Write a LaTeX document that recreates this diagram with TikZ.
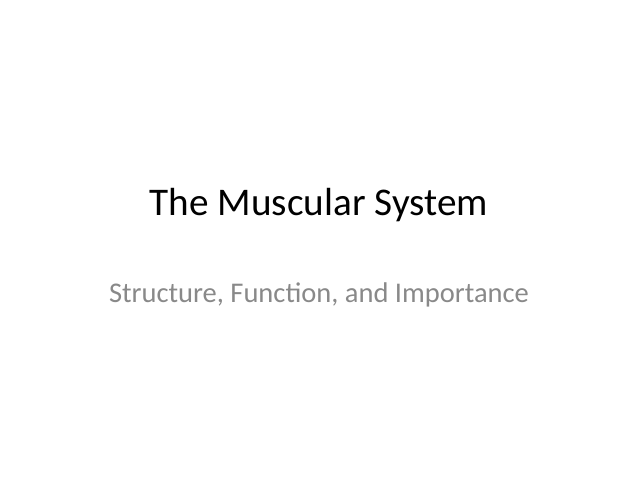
\documentclass[tikz,border=0pt]{standalone}
\usepackage{fontspec}
\setmainfont{Carlito}
\definecolor{subgray}{RGB}{137,137,137}
\begin{document}
\begin{tikzpicture}[x=1pt,y=-1pt]
\useasboundingbox[fill=white] (0,0) rectangle (638,478);
\node[font=\fontsize{39.2}{44}\selectfont, text=black] (title) at (319,205) {The Muscular System};
\node[font=\fontsize{28.5}{32}\selectfont, text=subgray] (sub) at (319,295) {Structure, Function, and Importance};
\end{tikzpicture}
\end{document}
